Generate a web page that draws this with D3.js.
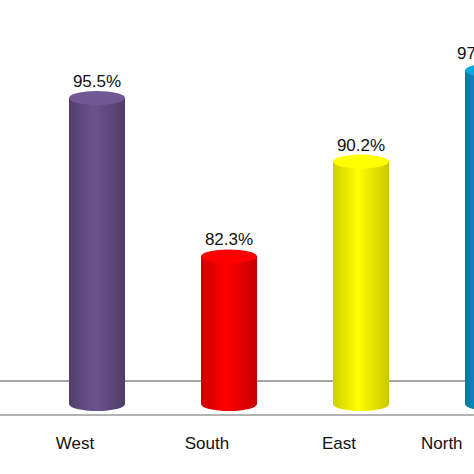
<!DOCTYPE html>
<html><head><meta charset="utf-8">
<script src="https://cdn.jsdelivr.net/npm/d3@7.9.0/dist/d3.min.js"></script>
<style>body{margin:0;background:#fff}svg{display:block}</style>
</head><body><svg width="474" height="474"></svg>
<script>
const categories = ['West', 'South', 'East', 'North'];
const values = [95.5, 82.3, 90.2, 97.8];
const labels = ['95.5%', '82.3%', '90.2%', '97.8%'];
const colors = ['#624b80', '#f40000', '#f8f800', '#0b8fc0'];

const svg = d3.select('svg');
const x = d3.scaleBand().domain(categories).range([31, 559]);
const y = d3.scaleLinear().domain([70, 100]).range([404, 44]);
const bw = 56, ry = 7;
const font = 'Liberation Sans, Arial, sans-serif';

// floor lines
svg.append('line').attr('x1', 0).attr('x2', 474).attr('y1', 381).attr('y2', 381)
  .attr('stroke', '#8a8a8a').attr('stroke-width', 1.5);
svg.append('line').attr('x1', 0).attr('x2', 474).attr('y1', 415).attr('y2', 415)
  .attr('stroke', '#9a9a9a').attr('stroke-width', 1.5);

const defs = svg.append('defs');
colors.forEach((c, i) => {
  let g = defs.append('linearGradient').attr('id', 'g' + i);
  let base = d3.color(c);
  g.append('stop').attr('offset', '0%').attr('stop-color', base.darker(0.5));
  g.append('stop').attr('offset', '45%').attr('stop-color', base.brighter(0.3));
  g.append('stop').attr('offset', '100%').attr('stop-color', base.darker(0.6));
});

categories.forEach((cat, i) => {
  let cx = x(cat) + x.bandwidth() / 2;
  let top = y(values[i]), bot = y(70);
  let last = i === categories.length - 1;
  svg.append('path')
    .attr('d', `M${cx - bw / 2},${top} L${cx - bw / 2},${bot} A${bw / 2},${ry} 0 0 0 ${cx + bw / 2},${bot} L${cx + bw / 2},${top} Z`)
    .attr('fill', `url(#g${i})`);
  svg.append('ellipse').attr('cx', cx).attr('cy', top).attr('rx', bw / 2).attr('ry', ry)
    .attr('fill', d3.color(colors[i]).brighter(0.4));
  svg.append('text').attr('x', last ? cx - 36 : cx).attr('y', top - 11)
    .attr('text-anchor', last ? 'start' : 'middle')
    .attr('font-family', font).attr('font-size', 17).attr('fill', '#111')
    .text(labels[i]);
  svg.append('text').attr('x', last ? cx - 72 : cx - 22).attr('y', 449)
    .attr('text-anchor', last ? 'start' : 'middle')
    .attr('font-family', font).attr('font-size', 17).attr('fill', '#111')
    .text(cat);
});
</script></body></html>
